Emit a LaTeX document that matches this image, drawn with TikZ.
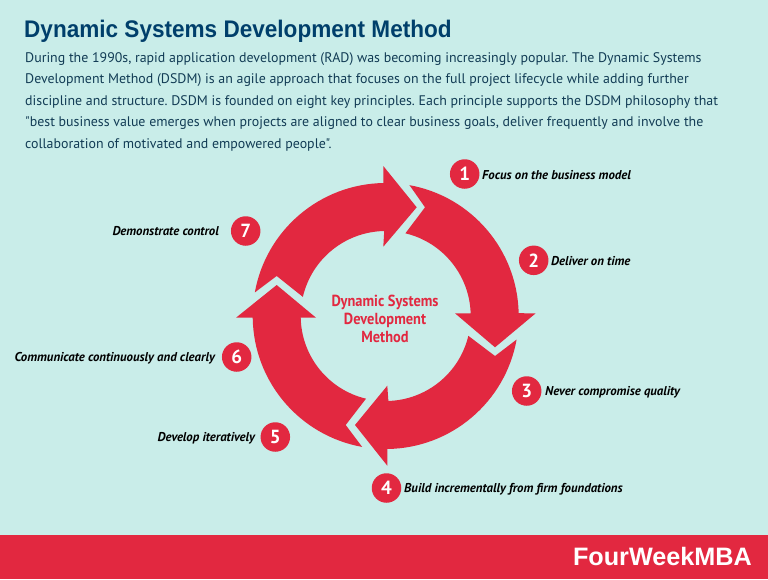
\documentclass[tikz,border=0pt]{standalone}
\usepackage{fontspec}
\setmainfont{PT Sans}
\newfontfamily\bodyfont{PT Sans}
\newfontfamily\narrowfont[FakeStretch=0.9]{PT Sans}
\newfontfamily\logofont{Liberation Sans}
\newfontfamily\titlefont[FakeStretch=0.94]{Liberation Sans}
\definecolor{bgc}{HTML}{C9EDE9}
\definecolor{redc}{HTML}{E22840}
\definecolor{titlec}{HTML}{003F6B}
\definecolor{bodyc}{HTML}{123C55}
\frenchspacing
\tikzset{
 ringarrow/.style={fill=redc,draw=none},
 bodyline/.style={anchor=base west,inner sep=0pt,text=bodyc,font=\bodyfont\fontsize{13.9}{18}\selectfont},
 numdot/.style={circle,fill=redc,draw=none,minimum size=29.5pt,inner sep=0pt,text=white,font=\fontsize{19}{20}\bfseries\selectfont},
 lab/.style={inner sep=0pt,text=black,font=\fontsize{12.8}{14}\bfseries\itshape\selectfont},
}
\begin{document}
\begin{tikzpicture}[x=1pt,y=1pt]
\useasboundingbox (0,-579) rectangle (768,0);
\fill[bgc] (0,-579) rectangle (768,0);
\fill[redc] (0,-579) rectangle (768,-535);
\node[anchor=base west,inner sep=0pt,text=titlec,font=\titlefont\fontsize{24}{28}\bfseries\selectfont] (title) at (24,-37) {Dynamic Systems Development Method};
\node[bodyline] (l1) at (25,-62) {During the 1990s, rapid application development (RAD) was becoming increasingly popular. The Dynamic Systems};
\node[bodyline] (l2) at (25,-83.5) {Development Method (DSDM) is an agile approach that focuses on the full project lifecycle while adding further};
\node[bodyline] (l3) at (25,-105) {discipline and structure. DSDM is founded on eight key principles. Each principle supports the DSDM philosophy that};
\node[bodyline] (l4) at (25,-126.5) {"best business value emerges when projects are aligned to clear business goals, deliver frequently and involve the};
\node[bodyline] (l5) at (25,-148) {collaboration of motivated and empowered people".};
\begin{scope}[shift={(385.7,-316)}]
\fill[ringarrow] (169.8:133) arc[start angle=169.8,end angle=91,radius=133] -- (-2.4,150) -- (31,108.7) -- (-2.4,69.3) -- (91:85) arc[start angle=91,end angle=167,radius=85] -- (-109,40) -- cycle;
\fill[ringarrow] (79.7:133) arc[start angle=79.7,end angle=1.2,radius=133] -- (150,2.7) -- (109.3,-31.3) -- (69.3,2.7) -- (1.8:85) arc[start angle=1.8,end angle=76.6,radius=85] -- (39.3,108.7) -- cycle;
\fill[ringarrow] (-10.2:133) arc[start angle=-10.2,end angle=-89.3,radius=133] -- (1.6,-149.7) -- (-30.7,-109) -- (1.6,-69.7) -- (-88.2:85) arc[start angle=-88.2,end angle=-13.5,radius=85] -- (109.3,-40) -- cycle;
\fill[ringarrow] (259.8:133) arc[start angle=259.8,end angle=180.7,radius=133] -- (-149.7,-1.7) -- (-109,31) -- (-69.7,-1.7) -- (181.1:85) arc[start angle=181.1,end angle=256.6,radius=85] -- (-40,-109) -- cycle;
\end{scope}
\node[align=center,inner sep=0pt,text=redc,font=\narrowfont\fontsize{16}{18.3}\bfseries\selectfont] (center) at (385,-319) {Dynamic Systems\\Development\\Method};
\node[numdot] (n1) at (464.7,-174) {1};
\node[numdot] (n2) at (533.7,-260.3) {2};
\node[numdot] (n3) at (526.7,-391) {3};
\node[numdot] (n4) at (386.5,-488) {4};
\node[numdot] (n5) at (275.3,-437) {5};
\node[numdot] (n6) at (236.7,-357) {6};
\node[numdot] (n7) at (245.7,-231) {7};
\node[lab,anchor=west] (t1) at (482,-175) {Focus on the business model};
\node[lab,anchor=west] (t2) at (551,-261) {Deliver on time};
\node[lab,anchor=west] (t3) at (545,-392) {Never compromise quality};
\node[lab,anchor=west] (t4) at (404,-489) {Build incrementally from firm foundations};
\node[lab,anchor=east] (t5) at (255,-438) {Develop iteratively};
\node[lab,anchor=east] (t6) at (215,-358) {Communicate continuously and clearly};
\node[lab,anchor=east] (t7) at (219,-231) {Demonstrate control};
\node[anchor=base east,inner sep=0pt,text=white,font=\logofont\fontsize{25.2}{30}\bfseries\selectfont] (logo) at (752,-565) {FourWeekMBA};
\end{tikzpicture}
\end{document}
